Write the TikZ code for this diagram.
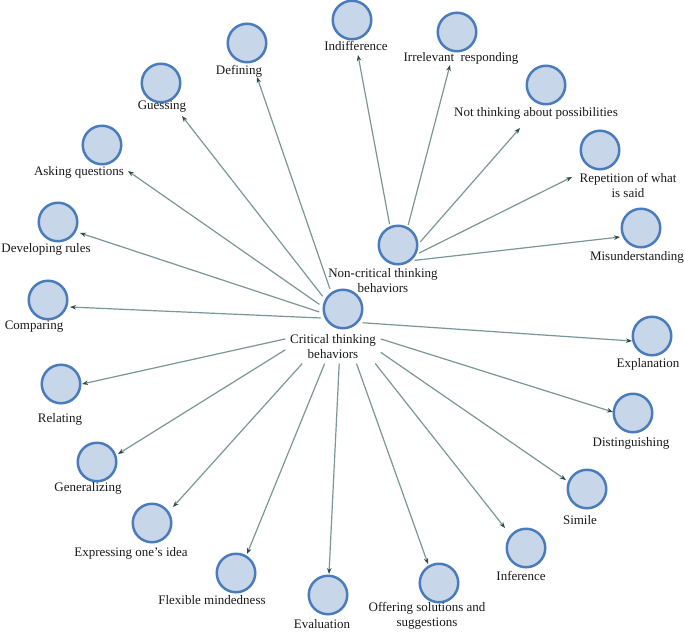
\documentclass[tikz,border=0pt]{standalone}
\usepackage{fontspec}
\setmainfont{Liberation Serif}
\usetikzlibrary{arrows.meta}
\definecolor{circfill}{RGB}{200,214,234}
\definecolor{circdraw}{RGB}{74,124,188}
\definecolor{linec}{RGB}{122,150,150}
\definecolor{tipc}{RGB}{45,75,75}
\begin{document}
\begin{tikzpicture}[x=1pt,y=-1pt,
  bub/.style={circle,draw=circdraw,fill=circfill,line width=2.5pt,minimum size=38.5pt,inner sep=0pt,outer sep=0pt},
  lbl/.style={font=\fontsize{13}{15}\selectfont,inner sep=1pt,align=center,text=black!90},
  arr/.style={draw=linec,line width=1.2pt,-{Stealth[length=6pt,width=4.5pt,color=tipc]}}]
\fill[white] (0,0) rectangle (685,632);
\useasboundingbox (0,0) rectangle (685,632);

% hubs
\node[bub,outer sep=4.75pt] (crit) at (343,309) {};
\node[bub,outer sep=3.3pt] (nc) at (398,245) {};
\node[lbl,outer sep=4pt] (critL) at (333,346.5) {Critical thinking\\behaviors};
\node[lbl] (ncL) at (383,280.5) {Non-critical thinking\\behaviors};

% outer circles
\node[bub] (cInd) at (352,20) {};
\node[bub] (cIrr) at (457,32) {};
\node[bub] (cDef) at (247,43) {};
\node[bub] (cNot) at (546,85) {};
\node[bub] (cGue) at (161,83) {};
\node[bub] (cAsk) at (102,145) {};
\node[bub] (cRep) at (600,150) {};
\node[bub] (cDev) at (58,222) {};
\node[bub] (cMis) at (641,228) {};
\node[bub] (cCom) at (48,300) {};
\node[bub] (cExp) at (652,336) {};
\node[bub] (cRel) at (61,384) {};
\node[bub] (cDis) at (633,413) {};
\node[bub] (cGen) at (97,462) {};
\node[bub] (cSim) at (587,489) {};
\node[bub] (cExpr) at (152,523) {};
\node[bub] (cInf) at (526,548) {};
\node[bub] (cFle) at (236,573) {};
\node[bub] (cEva) at (328,595) {};
\node[bub] (cOff) at (439,583) {};

% labels
\node[lbl] (lInd) at (356,46) {Indifference};
\node[lbl] (lIrr) at (461,58) {Irrelevant\ \ responding};
\node[lbl] (lDef) at (239,71) {Defining};
\node[lbl] (lNot) at (536,113) {Not thinking about possibilities};
\node[lbl] (lGue) at (162,107) {Guessing};
\node[lbl] (lAsk) at (79,172) {Asking questions};
\node[lbl] (lRep) at (628,185.5) {Repetition of what\\is said};
\node[lbl] (lDev) at (46,249) {Developing rules};
\node[lbl] (lMis) at (637,257) {Misunderstanding};
\node[lbl] (lCom) at (34,327) {Comparing};
\node[lbl] (lExp) at (648,364) {Explanation};
\node[lbl] (lRel) at (60,419) {Relating};
\node[lbl] (lDis) at (631,443) {Distinguishing};
\node[lbl] (lGen) at (88,488) {Generalizing};
\node[lbl] (lSim) at (580,520) {Simile};
\node[lbl] (lExpr) at (131,553) {Expressing one’s idea};
\node[lbl] (lInf) at (521,576) {Inference};
\node[lbl] (lFle) at (212,600) {Flexible mindedness};
\node[lbl] (lEva) at (322,624) {Evaluation};
\node[lbl] (lOff) at (427,615.5) {Offering solutions and\\suggestions};

% arrow tips
\coordinate (tInd) at (358,55);
\coordinate (tIrr) at (450,65);
\coordinate (tNot) at (520,128);
\coordinate (tRep) at (572,177);
\coordinate (tMis) at (620,237);
\coordinate (tDef) at (257,77);
\coordinate (tGue) at (182,116);
\coordinate (tAsk) at (128,171);
\coordinate (tDev) at (80,233);
\coordinate (tCom) at (70,307);
\coordinate (tRel) at (82,384);
\coordinate (tGen) at (118,454);
\coordinate (tExpr) at (173,507);
\coordinate (tFle) at (247,554);
\coordinate (tEva) at (329,574);
\coordinate (tOff) at (428,564);
\coordinate (tInf) at (505,528);
\coordinate (tSim) at (566,480);
\coordinate (tDis) at (613,412);
\coordinate (tExp) at (632,341);

% non-critical connectors
\draw[arr] (nc.112) -- (tInd);
\draw[arr] (nc.63) -- (tIrr);
\draw[arr] (nc.8) -- (tNot);
\draw[arr] (nc.-21) -- (tRep);
\draw[arr] (nc.-43) -- (tMis);

% critical connectors
\draw[arr] (crit.123.6) -- (tDef);
\draw[arr] (crit.148.6) -- (tGue);
\draw[arr] (crit.169.4) -- (tAsk);
\draw[arr] (crit.187.4) -- (tDev);
\draw[arr] (crit.202.5) -- (tCom);
\draw[arr] (crit.-35) -- (tExp);
\draw[arr] (critL.171.8) -- (tRel);
\draw[arr] (critL.184.5) -- (tGen);
\draw[arr] (critL.-151.2) -- (tExpr);
\draw[arr] (critL.-116) -- (tFle);
\draw[arr] (critL.-70) -- (tEva);
\draw[arr] (critL.-36.9) -- (tOff);
\draw[arr] (critL.-22.4) -- (tInf);
\draw[arr] (critL.-7.9) -- (tSim);
\draw[arr] (critL.9.6) -- (tDis);
\end{tikzpicture}
\end{document}
